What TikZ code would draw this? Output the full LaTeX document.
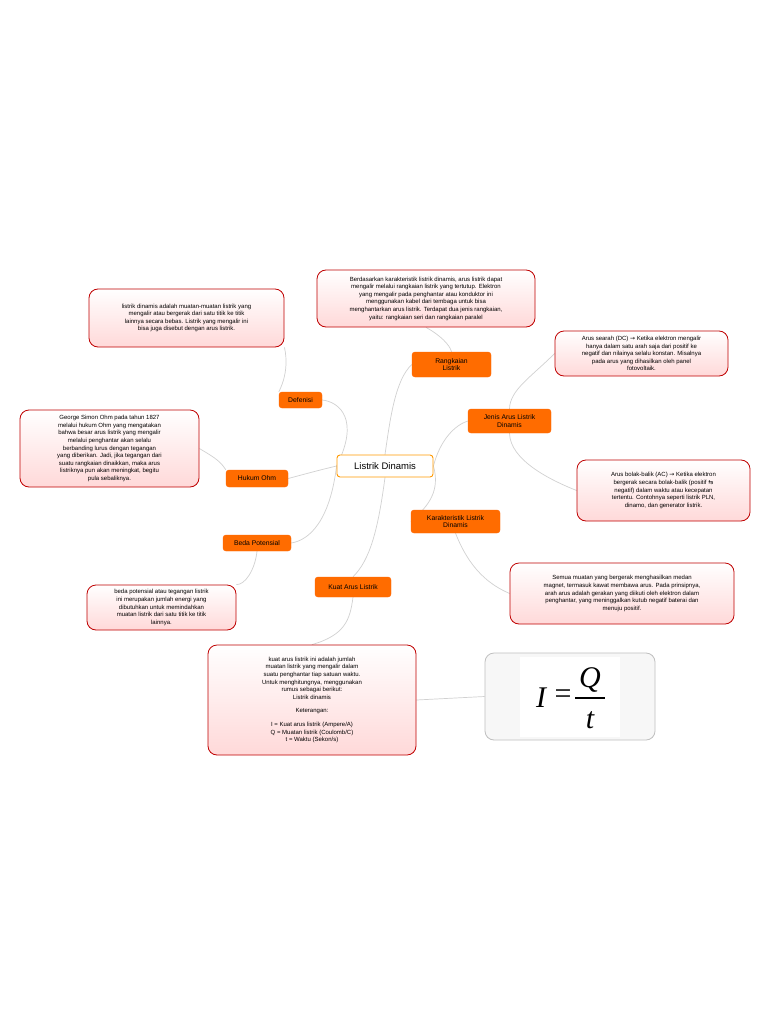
\documentclass[tikz,border=0pt]{standalone}
\usepackage{fontspec}
\setmainfont{Liberation Sans}
\newfontfamily\djv{DejaVu Sans}
\newfontfamily\tms{Liberation Serif}
\usetikzlibrary{backgrounds}
\begin{document}
\begin{tikzpicture}[x=1pt,y=-1pt,
  topic/.style={draw=orange!80!red,fill=orange!85!red,rounded corners=3pt,font=\fontsize{6.8}{7.8}\selectfont,text=black,align=center,inner sep=0pt},
  note/.style={draw=red!75!black,line width=0.8pt,rounded corners=9pt,top color=white,bottom color=red!15,font=\fontsize{6}{7.6}\selectfont,align=center,inner sep=0pt},
  link/.style={draw=black!18,line width=0.7pt},
  fsym/.style={inner sep=0pt,font=\tms\itshape\fontsize{30}{30}\selectfont}]
\useasboundingbox (0,0) rectangle (768,1024);
\node[draw=orange!80!yellow,line width=0.9pt,fill=white,rounded corners=3pt,minimum width=96pt,minimum height=22pt,font=\fontsize{9.5}{10}\selectfont] (c) at (385,466) {Listrik Dinamis};
\node[topic,minimum width=43pt,minimum height=16pt] (def) at (300.5,400) {Defenisi};
\node[topic,minimum width=79pt,minimum height=25pt] (rang) at (451.5,364.5) {Rangkaian\\Listrik};
\node[topic,minimum width=83pt,minimum height=24pt] (jenis) at (509.5,421) {Jenis Arus Listrik\\Dinamis};
\node[topic,minimum width=62pt,minimum height=17pt] (ohm) at (257,478.5) {Hukum Ohm};
\node[topic,minimum width=89pt,minimum height=23pt] (kar) at (455.5,521.5) {Karakteristik Listrik\\Dinamis};
\node[topic,minimum width=68pt,minimum height=16pt] (beda) at (257,543) {Beda Potensial};
\node[topic,minimum width=76pt,minimum height=20pt] (kuat) at (353,587) {Kuat Arus Listrik};

\node[note,minimum width=195pt,minimum height=58pt] (tdef) at (186.5,318) {listrik dinamis adalah muatan-muatan listrik yang\\mengalir atau bergerak dari satu titik ke titik\\lainnya secara bebas. Listrik yang mengalir ini\\bisa juga disebut dengan arus listrik.};
\node[note,minimum width=218pt,minimum height=57pt] (trang) at (426,298.5) {Berdasarkan karakteristik listrik dinamis, arus listrik dapat\\mengalir melalui rangkaian listrik yang tertutup. Elektron\\yang mengalir pada penghantar atau konduktor ini\\menggunakan kabel dari tembaga untuk bisa\\menghantarkan arus listrik. Terdapat dua jenis rangkaian,\\yaitu: rangkaian seri dan rangkaian paralel};
\node[note,minimum width=179pt,minimum height=77pt] (tohm) at (109.5,448.5) {George Simon Ohm pada tahun 1827\\melalui hukum Ohm yang mengatakan\\bahwa besar arus listrik yang mengalir\\melalui penghantar akan selalu\\berbanding lurus dengan tegangan\\yang diberikan. Jadi, jika tegangan dari\\suatu rangkaian dinaikkan, maka arus\\listriknya pun akan meningkat, begitu\\pula sebaliknya.};
\node[note,minimum width=173pt,minimum height=45pt] (tdc) at (641.5,353.5) {Arus searah (DC) {\djv→} Ketika elektron mengalir\\hanya dalam satu arah saja dari positif ke\\negatif dan nilainya selalu konstan. Misalnya\\pada arus yang dihasilkan oleh panel\\fotovoltaik.};
\node[note,minimum width=173pt,minimum height=61pt] (tac) at (663.5,490.5) {Arus bolak-balik (AC) {\djv→} Ketika elektron\\bergerak secara bolak-balik (positif {\djv⇆}\\negatif) dalam waktu atau kecepatan\\tertentu. Contohnya seperti listrik PLN,\\dinamo, dan generator listrik.};
\node[note,minimum width=224pt,minimum height=61pt] (tkar) at (622,593.5) {Semua muatan yang bergerak menghasilkan medan\\magnet, termasuk kawat membawa arus. Pada prinsipnya,\\arah arus adalah gerakan yang diikuti oleh elektron dalam\\penghantar, yang meninggalkan kutub negatif baterai dan\\menuju positif.};
\node[note,minimum width=149pt,minimum height=45pt] (tbeda) at (161.5,607.5) {beda potensial atau tegangan listrik\\ini merupakan jumlah energi yang\\dibutuhkan untuk memindahkan\\muatan listrik dari satu titik ke titik\\lainnya.};
\node[note,minimum width=208pt,minimum height=110pt] (tkuat) at (312,700) {kuat arus listrik ini adalah jumlah\\muatan listrik yang mengalir dalam\\suatu penghantar tiap satuan waktu.\\Untuk menghitungnya, menggunakan\\rumus sebagai berikut:\\Listrik dinamis\\[6pt]Keterangan:\\[6pt]I = Kuat arus listrik (Ampere/A)\\Q = Muatan listrik (Coulomb/C)\\t = Waktu (Sekon/s)};
\node[draw=black!25,line width=0.8pt,rounded corners=9pt,fill=black!3,minimum width=170pt,minimum height=87pt] (form) at (570,696.5) {};
\node[fill=white,minimum width=100pt,minimum height=80pt] (fm) at (570,696.5) {};
\node[fsym] (fi) at (541,698) {I};
\node[fsym,font=\tms\fontsize{30}{30}\selectfont] (feq) at (563,697) {=};
\node[fsym] (fq) at (590,680) {Q};
\node[fsym] (ft) at (590,720) {t};
\draw[line width=1.1pt] (575,698) -- (605,698);

\begin{scope}[on background layer]
\fill[white] (0,0) rectangle (768,1024);
\draw[link] (c.west) .. controls (360,420) and (340,402) .. (def.east);
\draw[link] (c.north) .. controls (390,420) and (395,380) .. (rang.west);
\draw[link] (c.east) .. controls (440,440) and (455,425) .. (jenis.west);
\draw[link] (c.west) .. controls (320,470) .. (ohm.east);
\draw[link] (c.east) .. controls (440,490) and (430,505) .. (kar.west);
\draw[link] (c.west) .. controls (330,520) and (310,540) .. (beda.east);
\draw[link] (c.south) .. controls (378,530) and (370,560) .. (kuat.north);
\draw[link] (def.north west) .. controls (290,370) and (285,350) .. (tdef.south east);
\draw[link] (rang.north) .. controls (450,345) and (440,335) .. (trang.south);
\draw[link] (jenis.north) .. controls (510,390) and (530,378) .. (tdc.west);
\draw[link] (jenis.south) .. controls (510,460) and (550,480) .. (tac.west);
\draw[link] (ohm.north west) .. controls (220,460) and (210,455) .. (tohm.east);
\draw[link] (kar.south) .. controls (470,570) and (490,585) .. (tkar.west);
\draw[link] (beda.south) .. controls (255,570) and (245,585) .. (tbeda.north east);
\draw[link] (kuat.south) .. controls (350,620) and (345,635) .. (tkuat.north);
\draw[link] (tkuat.east) -- (form.west);
\end{scope}
\end{tikzpicture}
\end{document}
